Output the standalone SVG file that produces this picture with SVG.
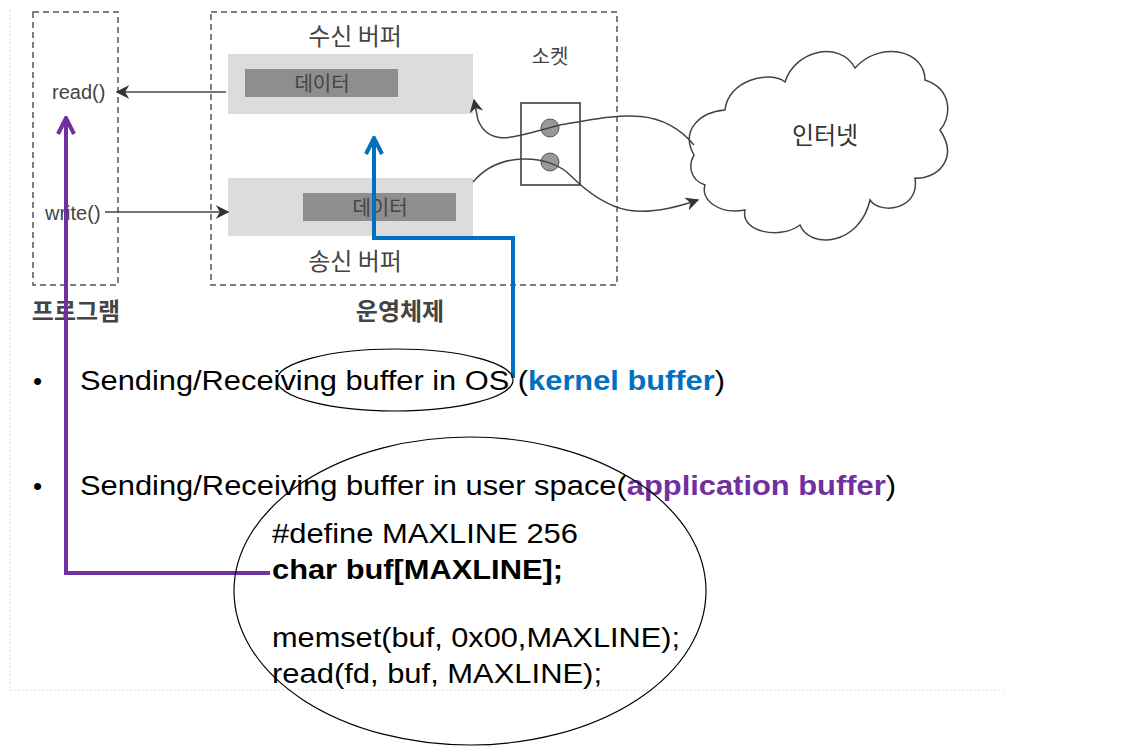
<svg xmlns="http://www.w3.org/2000/svg" width="1123" height="751" viewBox="0 0 1123 751">
<style>
.k{font-family:"Noto Sans CJK KR",sans-serif;fill:#444}
.e{font-family:"Liberation Sans",Arial,sans-serif;fill:#000}
.dash{fill:none;stroke:#555;stroke-width:1.5;stroke-dasharray:6,4}
.g{stroke:#444;stroke-width:1.5;fill:none}
</style>
<defs>
<marker id="a" viewBox="0 0 10 10" refX="9" refY="5" markerWidth="9" markerHeight="9" orient="auto-start-reverse"><path d="M0,0L10,5L0,10L3,5z" fill="#333"/></marker>
<marker id="b" viewBox="0 0 10 10" refX="8" refY="5" markerWidth="5" markerHeight="5" orient="auto"><path d="M1,1L9,5L1,9" fill="none" stroke="#0070c0" stroke-width="2"/></marker>
<marker id="p" viewBox="0 0 10 10" refX="8" refY="5" markerWidth="5" markerHeight="5" orient="auto"><path d="M1,1L9,5L1,9" fill="none" stroke="#7030a0" stroke-width="2"/></marker>
</defs>
<rect width="1123" height="751" fill="#fff"/>
<path d="M10,10V690H1005" fill="none" stroke="#e5e5c8" stroke-dasharray="2,2"/>
<g id="program">
<rect x="33" y="12" width="85" height="273" class="dash"/>
<text x="52" y="99" class="e" font-size="20" style="fill:#444">read()</text>
<text x="45" y="220" class="e" font-size="20" style="fill:#444">write()</text>
<text x="76" y="320" class="k" font-size="24" text-anchor="middle" font-weight="bold">프로그램</text>
</g>
<g id="os">
<rect x="211" y="12" width="406" height="273" class="dash"/>
<text x="355" y="45" class="k" font-size="24" text-anchor="middle">수신 버퍼</text>
<text x="355" y="270" class="k" font-size="24" text-anchor="middle">송신 버퍼</text>
<text x="400" y="320" class="k" font-size="24" text-anchor="middle" font-weight="bold">운영체제</text>
</g>
<g id="recvbuf">
<rect x="228" y="54" width="245" height="60" fill="#dcdcdc"/>
<rect x="245" y="69" width="153" height="28" fill="#8e8e8e"/>
<text x="322" y="91" class="k" font-size="20" text-anchor="middle">데이터</text>
</g>
<g id="sendbuf">
<rect x="228" y="178" width="245" height="58" fill="#dcdcdc"/>
<rect x="303" y="193" width="153" height="28" fill="#8e8e8e"/>
<text x="380" y="215" class="k" font-size="20" text-anchor="middle">데이터</text>
</g>
<g id="socket">
<text x="550" y="64" class="k" font-size="20" text-anchor="middle">소켓</text>
<rect x="521" y="103" width="59" height="82" fill="none" stroke="#333" stroke-width="1.5"/>
<circle cx="550" cy="128" r="9" fill="#999" stroke="#555"/>
<circle cx="550" cy="162" r="9" fill="#999" stroke="#555"/>
</g>
<g id="internet">
<path d="M694,155 C680,130 700,112 725,110 C728,80 770,70 785,82 C795,50 840,40 855,68 C880,40 925,50 925,80 C955,90 950,120 940,130 C960,160 935,180 915,178 C920,210 880,215 870,200 C860,245 810,250 800,225 C780,240 740,232 745,210 C720,215 700,200 705,185 C690,180 688,165 694,155Z" fill="#fff" stroke="#444" stroke-width="1.5"/>
<text x="825" y="144" class="k" font-size="24" text-anchor="middle" style="fill:#333">인터넷</text>
</g>
<g id="connectors">
<line x1="226" y1="92" x2="117" y2="92" class="g" marker-end="url(#a)"/>
<line x1="105" y1="212" x2="228" y2="212" class="g" marker-end="url(#a)"/>
<path d="M694,145 C660,105 620,115 560,125 C520,135 490,150 478,120 L474,100" class="g" marker-end="url(#a)"/>
<path d="M473,182 C500,150 550,155 570,175 C610,215 640,220 698,200" class="g" marker-end="url(#a)"/>
<path d="M513,378V238H374V140" fill="none" stroke="#0070c0" stroke-width="4" marker-end="url(#b)"/>
<path d="M270,573H66V120" fill="none" stroke="#7030a0" stroke-width="4" marker-end="url(#p)"/>
</g>
<g id="text">
<text x="33" y="390" class="e" font-size="26">•</text>
<text x="80" y="390" class="e" font-size="27" textLength="645" lengthAdjust="spacingAndGlyphs">Sending/Receiving buffer in OS (<tspan fill="#0070c0" font-weight="bold">kernel buffer</tspan>)</text>
<text x="33" y="495" class="e" font-size="26">•</text>
<text x="80" y="495" class="e" font-size="27" textLength="816" lengthAdjust="spacingAndGlyphs">Sending/Receiving buffer in user space(<tspan fill="#7030a0" font-weight="bold">application buffer</tspan>)</text>
<text x="272" y="543" class="e" font-size="27" textLength="306" lengthAdjust="spacingAndGlyphs">#define MAXLINE 256</text>
<text x="272" y="579" class="e" font-size="27" font-weight="bold" textLength="291" lengthAdjust="spacingAndGlyphs">char buf[MAXLINE];</text>
<text x="272" y="647" class="e" font-size="27" textLength="408" lengthAdjust="spacingAndGlyphs">memset(buf, 0x00,MAXLINE);</text>
<text x="272" y="683" class="e" font-size="27" textLength="330" lengthAdjust="spacingAndGlyphs">read(fd, buf, MAXLINE);</text>
<ellipse cx="395" cy="380" rx="118" ry="31" fill="none" stroke="#000" stroke-width="1.2"/>
<ellipse cx="470" cy="591" rx="236" ry="154" fill="none" stroke="#000" stroke-width="1.2"/>
</g>
</svg>
